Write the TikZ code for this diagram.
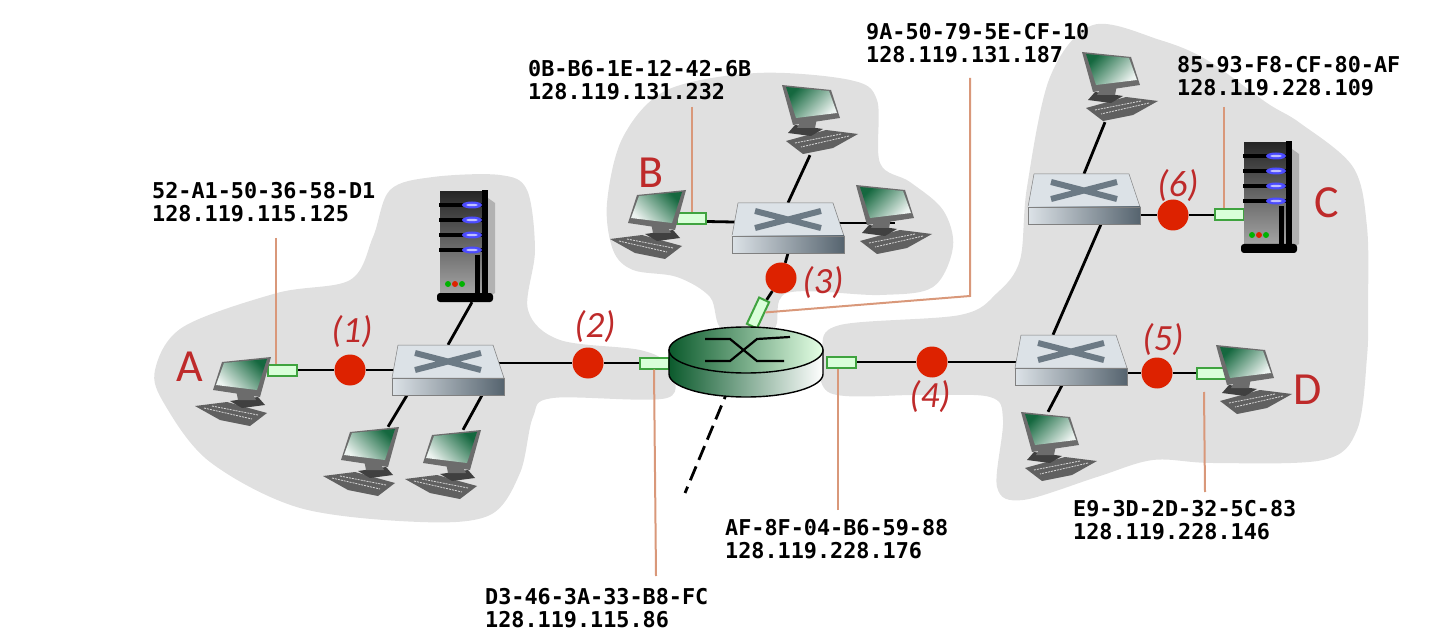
\documentclass[tikz,border=0pt]{standalone}
\usepackage{fontspec}
\setmainfont{Carlito}
\newfontfamily\macfont{DejaVu Sans Mono}
\pgfdeclarelayer{under}
\pgfsetlayers{under,main}
\definecolor{blobgray}{HTML}{E0E0E0}
\definecolor{probered}{HTML}{DD2200}
\definecolor{tagred}{HTML}{BE2A2A}
\definecolor{leadertan}{HTML}{D9987A}
\definecolor{nicgreen}{HTML}{3FA33F}
\definecolor{rtrdark}{HTML}{0B5A2C}
\definecolor{scrgreen}{HTML}{15683F}
\definecolor{swlight}{HTML}{DCE2E7}
\definecolor{swdark}{HTML}{56646F}
\definecolor{swmark}{HTML}{6C7A85}
\tikzset{
    pics/pc/.style={code={
        \pgfmathsetmacro\scrangle{-45*#1}
        \begin{scope}[xscale=#1]
            \fill[gray!75!black] (-37,14) -- (-5,10) -- (35,21) -- (18,34) -- (-12,28) -- cycle;
            \draw[white!70!gray, line width=.8, dash pattern=on 2pt off 1pt] (-28,16) -- (20,27) (-20,14) -- (26,23);
            \fill[black!75] (-2,9) -- (26,5) -- (33,13) -- (10,16) -- cycle;
            \fill[gray!85!black] (4,-2) -- (20,1) -- (24,8) -- (6,8) -- cycle;
            \fill[gray!85!black] (-10,-30) -- (39,-35) -- (28,5) -- (-19,-2) -- cycle;
            \shade[top color=scrgreen, bottom color=scrgreen!8, shading angle=\scrangle]
                (-8,-29) -- (35,-33) -- (25,-2) -- (-16,-7) -- cycle;
        \end{scope}
    }},
    pics/pc/.default=1,
    pics/switchbox/.style={code={
        \fill[swlight, draw=gray, line width=.5]
            (-50,-25) -- (45,-25) -- (56,8) -- (-56,8) -- cycle;
        \shade[left color=swlight, right color=swdark, draw=gray, line width=.5]
            (-56,8) rectangle (56,25);
        \draw[swmark, line width=6] (-33,-17) -- (33,0) (33,-17) -- (-33,0);
    }},
    pics/serverbox/.style={code={
        \fill[gray!60] (21,-48) -- (28,-43) -- (28,47) -- (21,51) -- cycle;
        \shade[top color=black!85, bottom color=gray!70] (-27,-54) rectangle (16,49);
        \fill[black] (15,-56) rectangle (21,51);
        \foreach \slot in {-41,-26,-11,4} {
            \fill[black] (-28,{\slot-2}) rectangle (16,{\slot+2});
            \fill[blue!70!white] (5,\slot) ellipse[x radius=10pt, y radius=3.5pt];
            \fill[blue!25!white] (5,\slot) ellipse[x radius=6pt, y radius=1.2pt];
        }
        \fill[black] (8,9) rectangle (13,47);
        \fill[green!70!black] (-19,38) circle[radius=3pt] (-5,38) circle[radius=3pt];
        \fill[probered] (-12,38) circle[radius=3pt];
        \fill[black, rounded corners=3pt] (-30,47) rectangle (26,56);
    }},
    pics/routerbox/.style={code={
        \shade[left color=rtrdark, right color=white, draw=black, line width=1.4]
            (-77,0) -- (-77,24) arc[start angle=180, end angle=360, x radius=77pt, y radius=23pt] -- (77,0) -- cycle;
        \shade[left color=rtrdark, right color=white!90!green, draw=black, line width=1.4]
            (0,0) ellipse[x radius=77pt, y radius=23pt];
        \draw[black, line width=2.2] (-41,-11) -- (-16,-11) -- (11,11) -- (38,11);
        \draw[black, line width=2.2] (-41,11) -- (-16,11) -- (11,-11) -- (44,-13);
    }},
}
\begin{document}
\begin{tikzpicture}[
        x=1pt, y=-1pt,
        blob/.style={fill=blobgray},
        hostspot/.style={minimum width=70, minimum height=70, inner sep=0},
        swspot/.style={minimum width=112, minimum height=50, inner sep=0},
        srvspot/.style={minimum width=56, minimum height=112, inner sep=0},
        rtrspot/.style={minimum width=154, minimum height=70, inner sep=0},
        nic/.style={draw=nicgreen, fill=white!85!green, line width=2, minimum width=29, minimum height=11, inner sep=0},
        probe/.style={fill=probered, circle, minimum size=31, inner sep=0},
        wire/.style={black, line width=2.8},
        leader/.style={leadertan, line width=2},
        addr/.style={anchor=west, align=left, inner sep=0, font=\fontsize{21.8}{23.5}\selectfont\macfont\bfseries},
        tag/.style={text=tagred, inner sep=0, font=\fontsize{46}{46}\selectfont},
        hop/.style={text=tagred, inner sep=0, font=\fontsize{37}{37}\selectfont\itshape},
    ]
    \useasboundingbox (0,0) rectangle (1429,644);

    \begin{pgfonlayer}{under}
    \fill[blob] plot[smooth cycle, tension=.55] coordinates {
        (155,370) (183,327) (277,293) (350,280) (373,237) (390,190) (433,177) (500,175) (527,190)
        (535,250) (528,310) (560,340) (640,350) (667,365) (667,398) (553,398) (533,417) (520,473)
        (490,515) (420,522) (300,508) (210,462) (165,405)};
    \fill[blob] plot[smooth cycle, tension=.55] coordinates {
        (757,73) (850,80) (877,100) (880,163) (910,182) (943,210) (953,247) (933,287) (880,295)
        (787,293) (773,330) (723,330) (710,297) (677,277) (633,270) (613,250) (607,203) (623,137) (667,90)};
    \fill[blob] plot[smooth cycle, tension=.55] coordinates {
        (1093,25) (1050,77) (1027,187) (1020,260) (997,293) (960,315) (840,325) (822,350) (830,393)
        (920,395) (990,397) (1003,420) (997,487) (1023,500) (1097,477) (1153,460) (1213,463) (1323,460)
        (1357,430) (1367,357) (1368,307) (1367,227) (1353,167) (1300,123) (1267,103) (1207,60) (1160,40)};
    \end{pgfonlayer}

    \node[hostspot] (hostA) at (232,392) {};
    \node[hostspot] (hostAa) at (360,462) {};
    \node[hostspot] (hostAb) at (442,465) {};
    \node[hostspot] (hostB) at (647,225) {};
    \node[hostspot] (hostBa) at (821,120) {};
    \node[hostspot] (hostBb) at (895,220) {};
    \node[hostspot] (hostCa) at (1121,87) {};
    \node[hostspot] (hostD) at (1255,380) {};
    \node[hostspot] (hostDa) at (1060,447) {};
    \node[swspot] (swA) at (448,370) {};
    \node[swspot] (swB) at (788,228) {};
    \node[swspot] (swC) at (1084,199) {};
    \node[swspot] (swD) at (1071,360) {};
    \node[srvspot] (srvA) at (467,246) {};
    \node[srvspot] (srvC) at (1271,197) {};
    \node[rtrspot] (rtr) at (746,350) {};

    \node[nic] (nicA) at (282,370) {};
    \node[nic] (nicB) at (691,218.5) {};
    \node[nic] (nicC) at (1229,215) {};
    \node[nic] (nicD) at (1211,373) {};
    \node[nic] (nicRw) at (654,363) {};
    \node[nic] (nicRe) at (841,362) {};
    \node[nic, rotate=65] (nicRn) at (758,313) {};

    \pic at (hostA) {pc};
    \pic at (hostAa) {pc};
    \pic at (hostAb) {pc};
    \pic at (hostB) {pc};
    \pic at (hostBa) {pc=-1};
    \pic at (hostBb) {pc=-1};
    \pic at (hostCa) {pc=-1};
    \pic at (hostD) {pc=-1};
    \pic at (hostDa) {pc=-1};
    \pic at (swA) {switchbox};
    \pic at (swB) {switchbox};
    \pic at (swC) {switchbox};
    \pic at (swD) {switchbox};
    \pic at (srvA) {serverbox};
    \pic at (srvC) {serverbox};
    \pic at (rtr) {routerbox};

    \node[probe] (ptA) at (350,370) {};
    \node[probe] (ptB) at (588,363) {};
    \node[probe] (ptC) at (781,278) {};
    \node[probe] (ptD) at (932,362) {};
    \node[probe] (ptE) at (1157,373) {};
    \node[probe] (ptF) at (1173,215) {};

    \coordinate (rtrEnd) at (685,493);

    \begin{pgfonlayer}{under}
    \draw[wire] (nicA) -- (ptA) -- (swA |- ptA);
    \draw[wire] (swA |- nicRw) -- (ptB) -- (nicRw);
    \draw[wire] (swB.south) -- (ptC) -- (nicRn);
    \draw[wire] (nicRe) -- (ptD) -- (swD |- nicRe);
    \draw[wire] (swD |- ptE) -- (ptE) -- (nicD);
    \draw[wire] (swC |- ptF) -- (ptF) -- (nicC);
    \draw[wire] ([xshift=5pt]srvA.south) -- (swA.north);
    \draw[wire] ([xshift=-41pt]swA.south) -- ([xshift=28pt]hostAa.north);
    \draw[wire] ([xshift=34pt]swA.south) -- ([xshift=21pt]hostAb.north);
    \draw[wire] ([yshift=-3pt]nicB.east) -- ([yshift=5pt]swB.center);
    \draw[wire] ([yshift=5pt]swB.center) -- ([yshift=-3pt]hostBb.center);
    \draw[wire] (swB.north) -- ([xshift=-11pt]hostBa.south);
    \draw[wire] (swC.north) -- ([xshift=-16pt]hostCa.south);
    \draw[wire] ([xshift=17pt]swC.south) -- ([xshift=-18pt]swD.north);
    \draw[wire] ([xshift=-9pt]swD.south) -- ([xshift=-12pt]hostDa.north);
    \draw[wire, dash pattern=on 15pt off 7pt] ([xshift=-16pt]rtr.south) -- (rtrEnd);
    \end{pgfonlayer}

    \node[addr] (macA) at (152,202) {52-A1-50-36-58-D1\\128.119.115.125};
    \node[addr] (macB) at (528,80) {0B-B6-1E-12-42-6B\\128.119.131.232};
    \node[addr] (macRn) at (866,43) {9A-50-79-5E-CF-10\\128.119.131.187};
    \node[addr] (macC) at (1177,76) {85-93-F8-CF-80-AF\\128.119.228.109};
    \node[addr] (macRw) at (485,608) {D3-46-3A-33-B8-FC\\128.119.115.86};
    \node[addr] (macRe) at (725,539) {AF-8F-04-B6-59-88\\128.119.228.176};
    \node[addr] (macD) at (1073,520) {E9-3D-2D-32-5C-83\\128.119.228.146};

    \coordinate (leadA) at (276,238);
    \coordinate (leadB) at (692,107);
    \coordinate (leadC) at (1224,107);
    \coordinate (leadD) at (1205,492);
    \coordinate (leadDa) at (1204,392);
    \coordinate (leadRw) at (656,576);
    \coordinate (leadRe) at (838,510);
    \coordinate (leadRn) at (970,78);
    \coordinate (bendRn) at (970,296);

    \draw[leader] (leadA) -- (nicA.north -| leadA);
    \draw[leader] (leadB) -- (nicB.north -| leadB);
    \draw[leader] (leadC) -- (nicC.north -| leadC);
    \draw[leader] (leadD) -- (leadDa);
    \draw[leader] (leadRw) -- (nicRw.south);
    \draw[leader] (leadRe) -- (leadRe |- nicRe.south);
    \draw[leader] (leadRn) -- (bendRn) -- (nicRn);

    \node[tag] (tagA) at (190,367) {A};
    \node[tag] (tagB) at (651,173) {B};
    \node[tag] (tagC) at (1327,203) {C};
    \node[tag] (tagD) at (1308,390) {D};
    \node[hop] (hopA) at (352,332) {(1)};
    \node[hop] (hopB) at (595,327) {(2)};
    \node[hop] (hopC) at (823,283) {(3)};
    \node[hop] (hopD) at (930,397) {(4)};
    \node[hop] (hopE) at (1163,340) {(5)};
    \node[hop] (hopF) at (1178,186) {(6)};
\end{tikzpicture}
\end{document}
